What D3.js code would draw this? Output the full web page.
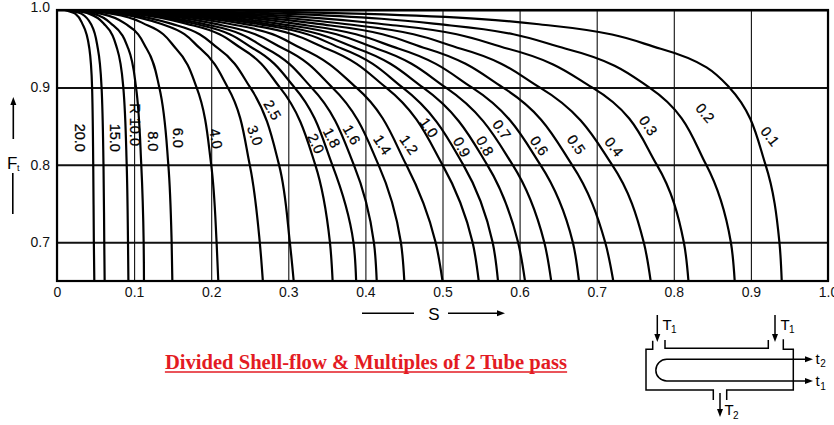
<!DOCTYPE html>
<html>
<head>
<meta charset="utf-8">
<script src="https://cdn.jsdelivr.net/npm/d3@7"></script>
<style>
  body { margin: 0; background: #fff; }
  svg { display: block; }
  text { font-family: "Liberation Sans", Arial, Helvetica, sans-serif; }
</style>
</head>
<body>
<svg id="chart" width="834" height="425"></svg>
<script>
var ftLevels = [1.0, 0.995, 0.98, 0.95, 0.9, 0.8, 0.7, 0.65];

// S read at each F_t level, one array per R
var sR200 = [0.010, 0.024, 0.034, 0.042, 0.0455, 0.0470, 0.0478, 0.0484];
var sR150 = [0.014, 0.032, 0.045, 0.053, 0.0578, 0.0603, 0.0613, 0.0618];
var sR100 = [0.020, 0.042, 0.063, 0.078, 0.0860, 0.0904, 0.0921, 0.0926];
var sR80  = [0.022, 0.048, 0.073, 0.0925, 0.1025, 0.1093, 0.1124, 0.1128];
var sR60  = [0.028, 0.058, 0.092, 0.1163, 0.1327, 0.1444, 0.1487, 0.1496];
var sR40  = [0.035, 0.072, 0.118, 0.1545, 0.181, 0.200, 0.207, 0.2092];
var sR30  = [0.040, 0.080, 0.141, 0.186, 0.2215, 0.250, 0.263, 0.267];
var sR25  = [0.045, 0.088, 0.156, 0.2095, 0.2505, 0.288, 0.302, 0.307];
var sR20  = [0.050, 0.100, 0.177, 0.240, 0.289, 0.335, 0.354, 0.3575];
var sR18  = [0.053, 0.105, 0.188, 0.255, 0.308, 0.357, 0.3845, 0.388];
var sR16  = [0.056, 0.110, 0.200, 0.272, 0.330, 0.385, 0.411, 0.4147];
var sR14  = [0.060, 0.120, 0.215, 0.294, 0.357, 0.417, 0.446, 0.4505];
var sR12  = [0.065, 0.130, 0.235, 0.318, 0.388, 0.453, 0.491, 0.500];
var sR10  = [0.070, 0.140, 0.255, 0.350, 0.4265, 0.500, 0.539, 0.547];
var sR09  = [0.075, 0.150, 0.272, 0.370, 0.448, 0.527, 0.565, 0.572];
var sR08  = [0.080, 0.160, 0.285, 0.390, 0.4745, 0.558, 0.598, 0.607];
var sR07  = [0.085, 0.170, 0.303, 0.415, 0.504, 0.591, 0.632, 0.641];
var sR06  = [0.090, 0.185, 0.325, 0.4435, 0.538, 0.627, 0.669, 0.677];
var sR05  = [0.100, 0.200, 0.355, 0.480, 0.578, 0.668, 0.711, 0.7215];
var sR04  = [0.110, 0.220, 0.390, 0.524, 0.626, 0.720, 0.761, 0.770];
var sR03  = [0.125, 0.250, 0.440, 0.585, 0.694, 0.778, 0.813, 0.819];
var sR02  = [0.150, 0.300, 0.511, 0.660, 0.768, 0.842, 0.874, 0.879];
var sR01  = [0.200, 0.400, 0.640, 0.783, 0.872, 0.919, 0.937, 0.940];

var curveS = [sR200, sR150, sR100, sR80, sR60, sR40, sR30, sR25, sR20, sR18, sR16,
              sR14, sR12, sR10, sR09, sR08, sR07, sR06, sR05, sR04, sR03, sR02, sR01];

// curve labels (R) and where they sit, in chart units
var rLabels   = ["20.0", "15.0", "R 10.0", "8.0", "6.0", "4.0", "3.0", "2.5", "2.0", "1.8", "1.6",
                 "1.4", "1.2", "1.0", "0.9", "0.8", "0.7", "0.6", "0.5", "0.4", "0.3", "0.2", "0.1"];
var labelS    = [0.0298, 0.0752, 0.1012, 0.1249, 0.1573, 0.2062, 0.2568, 0.2795, 0.3359, 0.3563, 0.3822,
                 0.4222, 0.4565, 0.4825, 0.5249, 0.5551, 0.5768, 0.6255, 0.6735, 0.7224, 0.7669, 0.8405, 0.9248];
var labelF    = [0.835, 0.835, 0.852, 0.8305, 0.835, 0.834, 0.838, 0.871, 0.8275, 0.835, 0.839,
                 0.826, 0.826, 0.848, 0.823, 0.8243, 0.8456, 0.8246, 0.8263, 0.8233, 0.8507, 0.867, 0.837];
var labelTilt = [90, 90, 90, 90, 90, 80, 70, 60, 65, 62, 60,
                 57, 55, 55, 62, 60, 55, 55, 55, 52, 55, 50, 52];

var xTicks = [0, 0.1, 0.2, 0.3, 0.4, 0.5, 0.6, 0.7, 0.8, 0.9, 1.0];
var yTicks = [0.7, 0.8, 0.9, 1.0];

var svg = d3.select("svg#chart");

var plotLeft = 57, plotRight = 828, plotTop = 10, plotBottom = 281;

var x = d3.scaleLinear().domain([0, 1]).range([plotLeft, plotRight]);
var y = d3.scaleLinear().domain([0.65, 1.0]).range([plotBottom, plotTop]);

svg.append("defs").append("clipPath").attr("id", "plotClip")
   .append("rect")
   .attr("x", plotLeft).attr("y", plotTop - 1)
   .attr("width", plotRight - plotLeft).attr("height", plotBottom - plotTop + 1);

// vertical grid + x tick labels
var xAxis = svg.append("g")
    .attr("transform", "translate(0," + plotBottom + ")")
    .call(d3.axisBottom(x)
            .tickValues(xTicks)
            .tickSize(-(plotBottom - plotTop))
            .tickPadding(6)
            .tickFormat(function(d) { return d === 0 ? "0" : d3.format(".1f")(d); }));
xAxis.select(".domain").remove();
xAxis.selectAll("line").attr("stroke", "#111").attr("stroke-width", 1.1);
xAxis.selectAll("text").attr("font-size", 14).attr("fill", "#111")
     .style("font-family", "'Liberation Sans', Arial, sans-serif");

// horizontal grid + y tick labels
var yAxis = svg.append("g")
    .attr("transform", "translate(" + plotLeft + ",0)")
    .call(d3.axisLeft(y)
            .tickValues(yTicks)
            .tickSize(-(plotRight - plotLeft))
            .tickPadding(7)
            .tickFormat(d3.format(".1f")));
yAxis.select(".domain").remove();
yAxis.selectAll("line").attr("stroke", "#111").attr("stroke-width", 2);
yAxis.selectAll("text").attr("font-size", 14).attr("fill", "#111")
     .style("font-family", "'Liberation Sans', Arial, sans-serif");
yAxis.selectAll(".tick").filter(function(d) { return d === 1.0; })
     .select("text").attr("dy", "0.1em");

// frame
svg.append("rect")
   .attr("x", plotLeft).attr("y", plotTop)
   .attr("width", plotRight - plotLeft).attr("height", plotBottom - plotTop)
   .attr("fill", "none").attr("stroke", "#000").attr("stroke-width", 2.2);

// curves
var line = d3.line()
    .x(function(d) { return x(d[0]); })
    .y(function(d) { return y(d[1]); })
    .curve(d3.curveMonotoneY);

svg.append("g")
   .attr("clip-path", "url(#plotClip)")
   .selectAll("path")
   .data(curveS)
   .enter().append("path")
   .attr("d", function(s) {
       return line(s.map(function(v, i) { return [v, ftLevels[i]]; }));
   })
   .attr("fill", "none")
   .attr("stroke", "#000")
   .attr("stroke-width", 2.2)
   .attr("stroke-linecap", "round");

// curve labels
svg.append("g")
   .selectAll("text")
   .data(rLabels)
   .enter().append("text")
   .attr("transform", function(d, i) {
       return "translate(" + x(labelS[i]) + "," + y(labelF[i]) + ") rotate(" + labelTilt[i] + ")";
   })
   .attr("text-anchor", "middle")
   .attr("dy", "0.35em")
   .attr("font-size", 14.5)
   .attr("fill", "#000")
   .attr("stroke", "#000")
   .attr("stroke-width", 0.25)
   .text(function(d) { return d; });

// axis titles with arrows
function arrowHead(g, tipX, tipY, dir) {
  var pts;
  if (dir === "up") pts = [[tipX, tipY], [tipX - 3, tipY + 8], [tipX + 3, tipY + 8]];
  else if (dir === "down") pts = [[tipX, tipY], [tipX - 3, tipY - 8], [tipX + 3, tipY - 8]];
  else pts = [[tipX, tipY], [tipX - 8, tipY - 3], [tipX - 8, tipY + 3]];
  g.append("path").attr("d", "M" + pts.join("L") + "Z").attr("fill", "#000");
}

var ann = svg.append("g").attr("stroke-width", 1.6);

ann.append("line").attr("x1", 13.3).attr("x2", 13.3).attr("y1", 139).attr("y2", 102).attr("stroke", "#000");
arrowHead(ann, 13.3, 97, "up");
ann.append("text").attr("x", 7).attr("y", 168.5).attr("font-size", 17).text("F");
ann.append("text").attr("x", 17).attr("y", 171).attr("font-size", 9).text("t");
ann.append("line").attr("x1", 12.8).attr("x2", 12.8).attr("y1", 173).attr("y2", 214).attr("stroke", "#000");

ann.append("line").attr("x1", 362).attr("x2", 414).attr("y1", 313.3).attr("y2", 313.3).attr("stroke", "#000");
ann.append("text").attr("x", 434).attr("y", 319.5).attr("font-size", 17).attr("text-anchor", "middle").text("S");
ann.append("line").attr("x1", 448).attr("x2", 498).attr("y1", 313.3).attr("y2", 313.3).attr("stroke", "#000");
arrowHead(ann, 505, 313.3, "right");

// title
var title = svg.append("text")
   .attr("x", 366).attr("y", 368.5)
   .attr("text-anchor", "middle")
   .attr("font-size", 20.6)
   .attr("font-weight", "bold")
   .attr("fill", "#e31b23")
   .style("font-family", "'Liberation Serif', 'Times New Roman', serif")
   .text("Divided Shell-flow & Multiples of 2 Tube pass");
var tb = title.node().getBBox();
svg.append("line")
   .attr("x1", tb.x).attr("x2", tb.x + tb.width)
   .attr("y1", 372).attr("y2", 372)
   .attr("stroke", "#e31b23").attr("stroke-width", 1.6);

// exchanger sketch
var sk = svg.append("g").attr("transform", "translate(620,300)")
            .attr("fill", "none").attr("stroke", "#000").attr("stroke-width", 1.5);

sk.append("path").attr("d",
  "M32.7,40.7 V49.3 H26 V90 H93.3 V100 M106.7,100 V90 H173.3 V49.3 H163.3 V39.3 " +
  "M148.3,40 V48.3 H45 V40");
sk.append("path").attr("d", "M186,59.3 H46.7 A10.85,10.85 0 0 0 46.7,81 H186");
sk.append("line").attr("x1", 37.3).attr("x2", 37.3).attr("y1", 15).attr("y2", 35);
sk.append("line").attr("x1", 155).attr("x2", 155).attr("y1", 15).attr("y2", 35);
sk.append("line").attr("x1", 100).attr("x2", 100).attr("y1", 93).attr("y2", 110);

var skHeads = svg.append("g").attr("transform", "translate(620,300)");
arrowHead(skHeads, 37.3, 42, "down");
arrowHead(skHeads, 155, 42, "down");
arrowHead(skHeads, 100, 117, "down");
arrowHead(skHeads, 193, 59.3, "right");
arrowHead(skHeads, 193, 81, "right");

var skText = svg.append("g").attr("transform", "translate(620,300)").attr("fill", "#000");
function subLabel(g, main, sub, bx, by) {
  g.append("text").attr("x", bx).attr("y", by).attr("font-size", 15).text(main);
  var w = main === "T" ? 8.5 : 4.8;
  g.append("text").attr("x", bx + w).attr("y", by + 3.5).attr("font-size", 10).text(sub);
}
subLabel(skText, "T", "1", 42.5, 29.5);
subLabel(skText, "T", "1", 160.5, 29.5);
subLabel(skText, "T", "2", 104.5, 115);
subLabel(skText, "t", "2", 195.5, 63.5);
subLabel(skText, "t", "1", 195.5, 86);
</script>
</body>
</html>
